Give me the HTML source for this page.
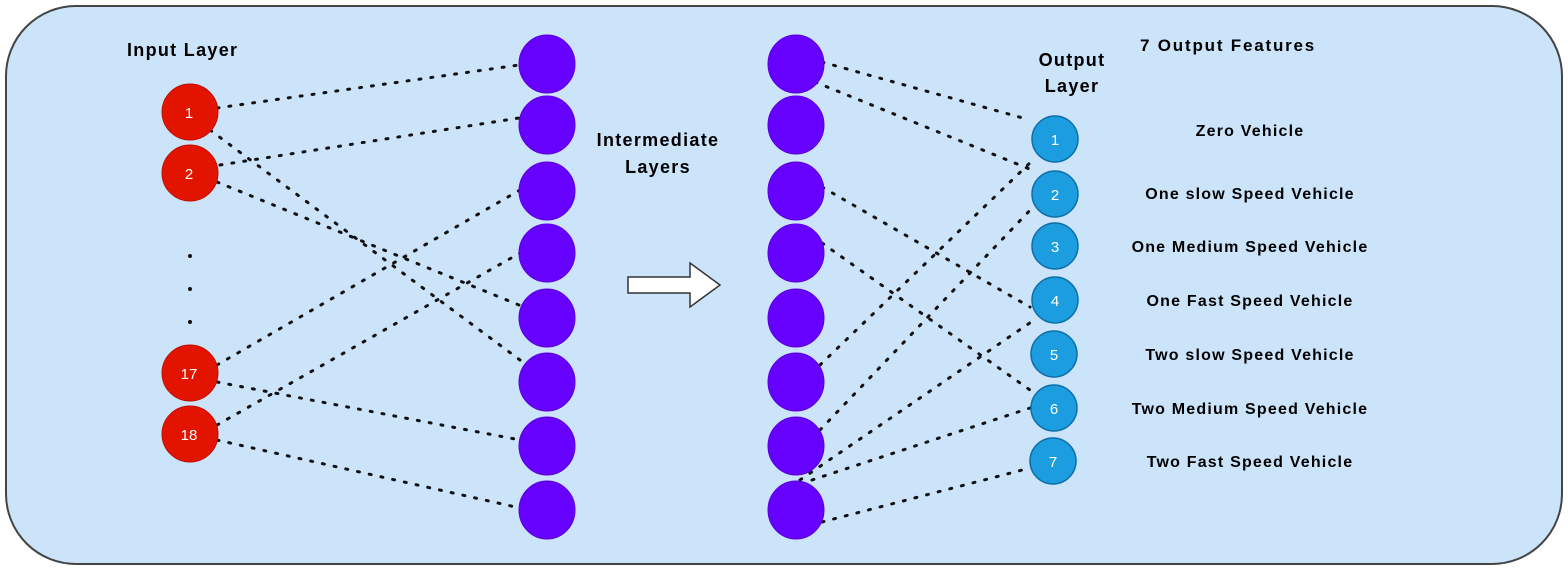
<!DOCTYPE html>
<html><head><style>body{margin:0;background:#fff}svg{display:block}</style></head><body>
<svg width="1568" height="573" viewBox="0 0 1568 573" xmlns="http://www.w3.org/2000/svg" font-family="Liberation Sans, sans-serif">
<rect x="6" y="6" width="1556" height="558" rx="70" fill="#cce4fa" stroke="#444" stroke-width="2"/>
<g stroke="#111" stroke-width="3" stroke-dasharray="2 10" stroke-linecap="round" fill="none">
<line x1="217" y1="108" x2="519" y2="65"/>
<line x1="210" y1="130" x2="520" y2="360"/>
<line x1="220" y1="165" x2="519" y2="118"/>
<line x1="217" y1="182" x2="519" y2="305"/>
<line x1="217" y1="365" x2="520" y2="190"/>
<line x1="217" y1="382" x2="520" y2="440"/>
<line x1="217" y1="425" x2="520" y2="253"/>
<line x1="217" y1="440" x2="520" y2="508"/>
<line x1="822" y1="62" x2="1030" y2="120"/>
<line x1="815" y1="82" x2="1032" y2="170"/>
<line x1="822" y1="187" x2="1030" y2="307"/>
<line x1="822" y1="243" x2="1030" y2="390"/>
<line x1="820" y1="365" x2="1035" y2="158"/>
<line x1="820" y1="430" x2="1035" y2="205"/>
<line x1="800" y1="480" x2="1037" y2="318"/>
<line x1="812" y1="480" x2="1030" y2="408"/>
<line x1="822" y1="522" x2="1030" y2="468"/>
</g>
<g fill="#111"><circle cx="190" cy="256" r="2"/><circle cx="190" cy="289" r="2"/><circle cx="190" cy="322" r="2"/></g>
<g fill="#e21400" stroke="#c01000">
<ellipse cx="190" cy="112" rx="28" ry="28"/><ellipse cx="190" cy="173" rx="28" ry="28"/>
<ellipse cx="190" cy="373" rx="28" ry="28"/><ellipse cx="190" cy="434" rx="28" ry="28"/>
</g>
<g fill="#fff" font-size="15" text-anchor="middle">
<text x="189" y="118">1</text><text x="189" y="179">2</text><text x="189" y="379">17</text><text x="189" y="440">18</text>
</g>
<g fill="#6600ff" stroke="#5a00e0">
<ellipse cx="547" cy="64" rx="28" ry="29"/><ellipse cx="547" cy="125" rx="28" ry="29"/><ellipse cx="547" cy="191" rx="28" ry="29"/><ellipse cx="547" cy="253" rx="28" ry="29"/><ellipse cx="547" cy="318" rx="28" ry="29"/><ellipse cx="547" cy="382" rx="28" ry="29"/><ellipse cx="547" cy="446" rx="28" ry="29"/><ellipse cx="547" cy="510" rx="28" ry="29"/>
<ellipse cx="796" cy="64" rx="28" ry="29"/><ellipse cx="796" cy="125" rx="28" ry="29"/><ellipse cx="796" cy="191" rx="28" ry="29"/><ellipse cx="796" cy="253" rx="28" ry="29"/><ellipse cx="796" cy="318" rx="28" ry="29"/><ellipse cx="796" cy="382" rx="28" ry="29"/><ellipse cx="796" cy="446" rx="28" ry="29"/><ellipse cx="796" cy="510" rx="28" ry="29"/>
</g>
<g fill="#1b9ddf" stroke="#0f6fa8" stroke-width="1.5">
<circle cx="1055" cy="139" r="23"/><circle cx="1055" cy="194" r="23"/><circle cx="1055" cy="246" r="23"/><circle cx="1055" cy="300" r="23"/><circle cx="1054" cy="354" r="23"/><circle cx="1054" cy="408" r="23"/><circle cx="1053" cy="461" r="23"/>
</g>
<g fill="#fff" font-size="15" text-anchor="middle">
<text x="1055" y="145">1</text><text x="1055" y="200">2</text><text x="1055" y="252">3</text><text x="1055" y="306">4</text><text x="1054" y="360">5</text><text x="1054" y="414">6</text><text x="1053" y="467">7</text>
</g>
<path d="M628 277 H690 V263 L720 285 L690 307 V293 H628 Z" fill="#fff" stroke="#333" stroke-width="1.5"/>
<g fill="#000" font-weight="bold" font-size="18" letter-spacing="1.3">
<text x="127" y="56">Input Layer</text>
<text x="658" y="146" text-anchor="middle">Intermediate</text>
<text x="658" y="173" text-anchor="middle">Layers</text>
<text x="1072" y="66" text-anchor="middle">Output</text>
<text x="1072" y="92" text-anchor="middle">Layer</text>
<text x="1140" y="51" font-size="17" letter-spacing="1.8">7 Output Features</text>
</g>
<g fill="#000" font-weight="bold" font-size="16" letter-spacing="1.2" text-anchor="middle">
<text x="1250" y="136">Zero Vehicle</text>
<text x="1250" y="199">One slow Speed Vehicle</text>
<text x="1250" y="252">One Medium Speed Vehicle</text>
<text x="1250" y="306">One Fast Speed Vehicle</text>
<text x="1250" y="360">Two slow Speed Vehicle</text>
<text x="1250" y="414">Two Medium Speed Vehicle</text>
<text x="1250" y="467">Two Fast Speed Vehicle</text>
</g>
</svg>
</body></html>
